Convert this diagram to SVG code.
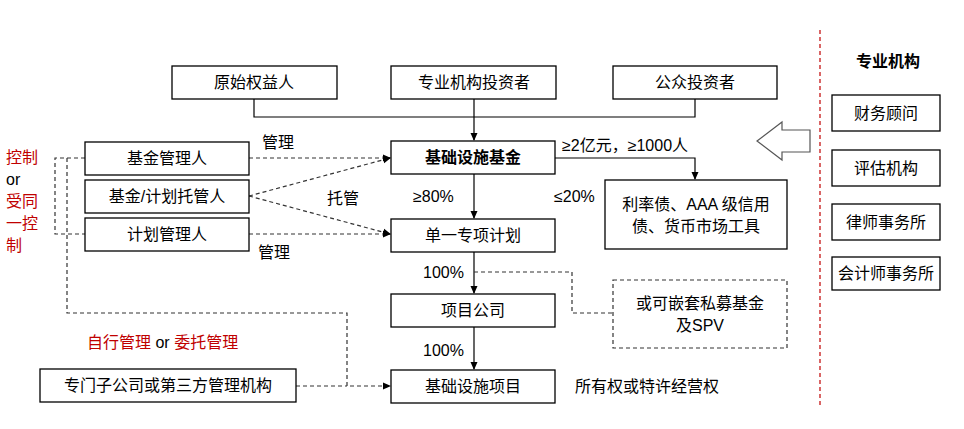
<svg xmlns="http://www.w3.org/2000/svg" width="964" height="429" viewBox="0 0 964 429">
<defs>
<style>
text{font-family:"Liberation Sans","Noto Sans CJK SC",sans-serif;font-size:16px;fill:#000}
.b{fill:#fff;stroke:#000;stroke-width:1.3}
.l{fill:none;stroke:#000;stroke-width:1.2}
.d{fill:none;stroke:#333;stroke-width:1.2;stroke-dasharray:4 3}
.r{fill:#c00000}
.c{text-anchor:middle}
</style>
<marker id="a" markerWidth="8" markerHeight="8" refX="7" refY="4" orient="auto" markerUnits="userSpaceOnUse"><path d="M0,0.5L8,4L0,7.5z" fill="#000"/></marker>
</defs>
<g id="connectors">
<path class="l" d="M254,99V117H695V99M474,99V117M474,117V140" marker-end="url(#a)"/>
<path class="l" d="M555,158H695V179" marker-end="url(#a)"/>
<path class="l" d="M474,174V218" marker-end="url(#a)"/>
<path class="l" d="M474,252V293" marker-end="url(#a)"/>
<path class="l" d="M474,327V369" marker-end="url(#a)"/>
<path class="d" d="M474,272H572V313H613"/>
<path class="d" d="M249,158H390" marker-end="url(#a)"/>
<path class="d" d="M249,196L390,158" marker-end="url(#a)"/>
<path class="d" d="M249,196L390,234" marker-end="url(#a)"/>
<path class="d" d="M249,234H390" marker-end="url(#a)"/>
<path class="d" d="M85,158H55V234H85"/>
<path class="d" d="M67,158V313H347V386H390" marker-end="url(#a)"/>
<path class="d" d="M296,386H347"/>
<path d="M820,30V405" fill="none" stroke="#c00000" stroke-width="1.2" stroke-dasharray="4 3"/>
<path d="M810,130H782V122L757,141L782,160V152H810Z" fill="#fff" stroke="#555" stroke-width="1.2"/>
</g>
<g id="n1"><rect class="b" x="172" y="66" width="165" height="33"/><text class="c" x="254" y="88">原始权益人</text></g>
<g id="n2"><rect class="b" x="391" y="66" width="165" height="33"/><text class="c" x="474" y="88">专业机构投资者</text></g>
<g id="n3"><rect class="b" x="613" y="66" width="164" height="33"/><text class="c" x="695" y="88">公众投资者</text></g>
<g id="fund"><rect class="b" x="391" y="141" width="164" height="33"/><text class="c" x="473" y="163" font-weight="bold">基础设施基金</text></g>
<g id="plan"><rect class="b" x="391" y="219" width="164" height="33"/><text class="c" x="473" y="241">单一专项计划</text></g>
<g id="company"><rect class="b" x="391" y="294" width="164" height="33"/><text class="c" x="473" y="316">项目公司</text></g>
<g id="project"><rect class="b" x="391" y="370" width="164" height="33"/><text class="c" x="473" y="392">基础设施项目</text></g>
<g id="bonds"><rect class="b" x="605" y="180" width="182" height="69"/><text class="c" x="696" y="210">利率债、AAA 级信用</text><text class="c" x="696" y="232">债、货币市场工具</text></g>
<g id="spv"><rect x="613" y="280" width="174" height="68" fill="#fff" stroke="#333" stroke-width="1.2" stroke-dasharray="4 3"/><text class="c" x="700" y="309">或可嵌套私募基金</text><text class="c" x="700" y="331">及SPV</text></g>
<g id="m1"><rect class="b" x="85" y="142" width="164" height="33"/><text class="c" x="167" y="164">基金管理人</text></g>
<g id="m2"><rect class="b" x="85" y="180" width="164" height="33"/><text class="c" x="167" y="202">基金/计划托管人</text></g>
<g id="m3"><rect class="b" x="85" y="218" width="164" height="33"/><text class="c" x="167" y="240">计划管理人</text></g>
<g id="op"><rect class="b" x="40" y="369" width="256" height="33"/><text class="c" x="168" y="391">专门子公司或第三方管理机构</text></g>
<g id="pro"><text class="c" x="888" y="67" font-weight="bold">专业机构</text>
<rect class="b" x="832" y="95" width="108" height="36"/><text class="c" x="886" y="119">财务顾问</text>
<rect class="b" x="832" y="150" width="108" height="36"/><text class="c" x="886" y="174">评估机构</text>
<rect class="b" x="832" y="204" width="108" height="36"/><text class="c" x="886" y="228">律师事务所</text>
<rect class="b" x="832" y="257" width="108" height="33"/><text class="c" x="886" y="279">会计师事务所</text></g>
<g id="labels">
<text x="262" y="148">管理</text>
<text x="327" y="204">托管</text>
<text x="258" y="258">管理</text>
<text x="413" y="202">≥80%</text>
<text x="554" y="202">≤20%</text>
<text x="562" y="151">≥2亿元，≥1000人</text>
<text x="423" y="278">100%</text>
<text x="423" y="356">100%</text>
<text x="575" y="392">所有权或特许经营权</text>
<text x="87" y="348"><tspan class="r">自行管理</tspan> or <tspan class="r">委托管理</tspan></text>
<text x="6" y="163" class="r">控制</text>
<text x="6" y="185">or</text>
<text x="6" y="207" class="r">受同</text>
<text x="6" y="229" class="r">一控</text>
<text x="6" y="251" class="r">制</text>
</g>
</svg>
